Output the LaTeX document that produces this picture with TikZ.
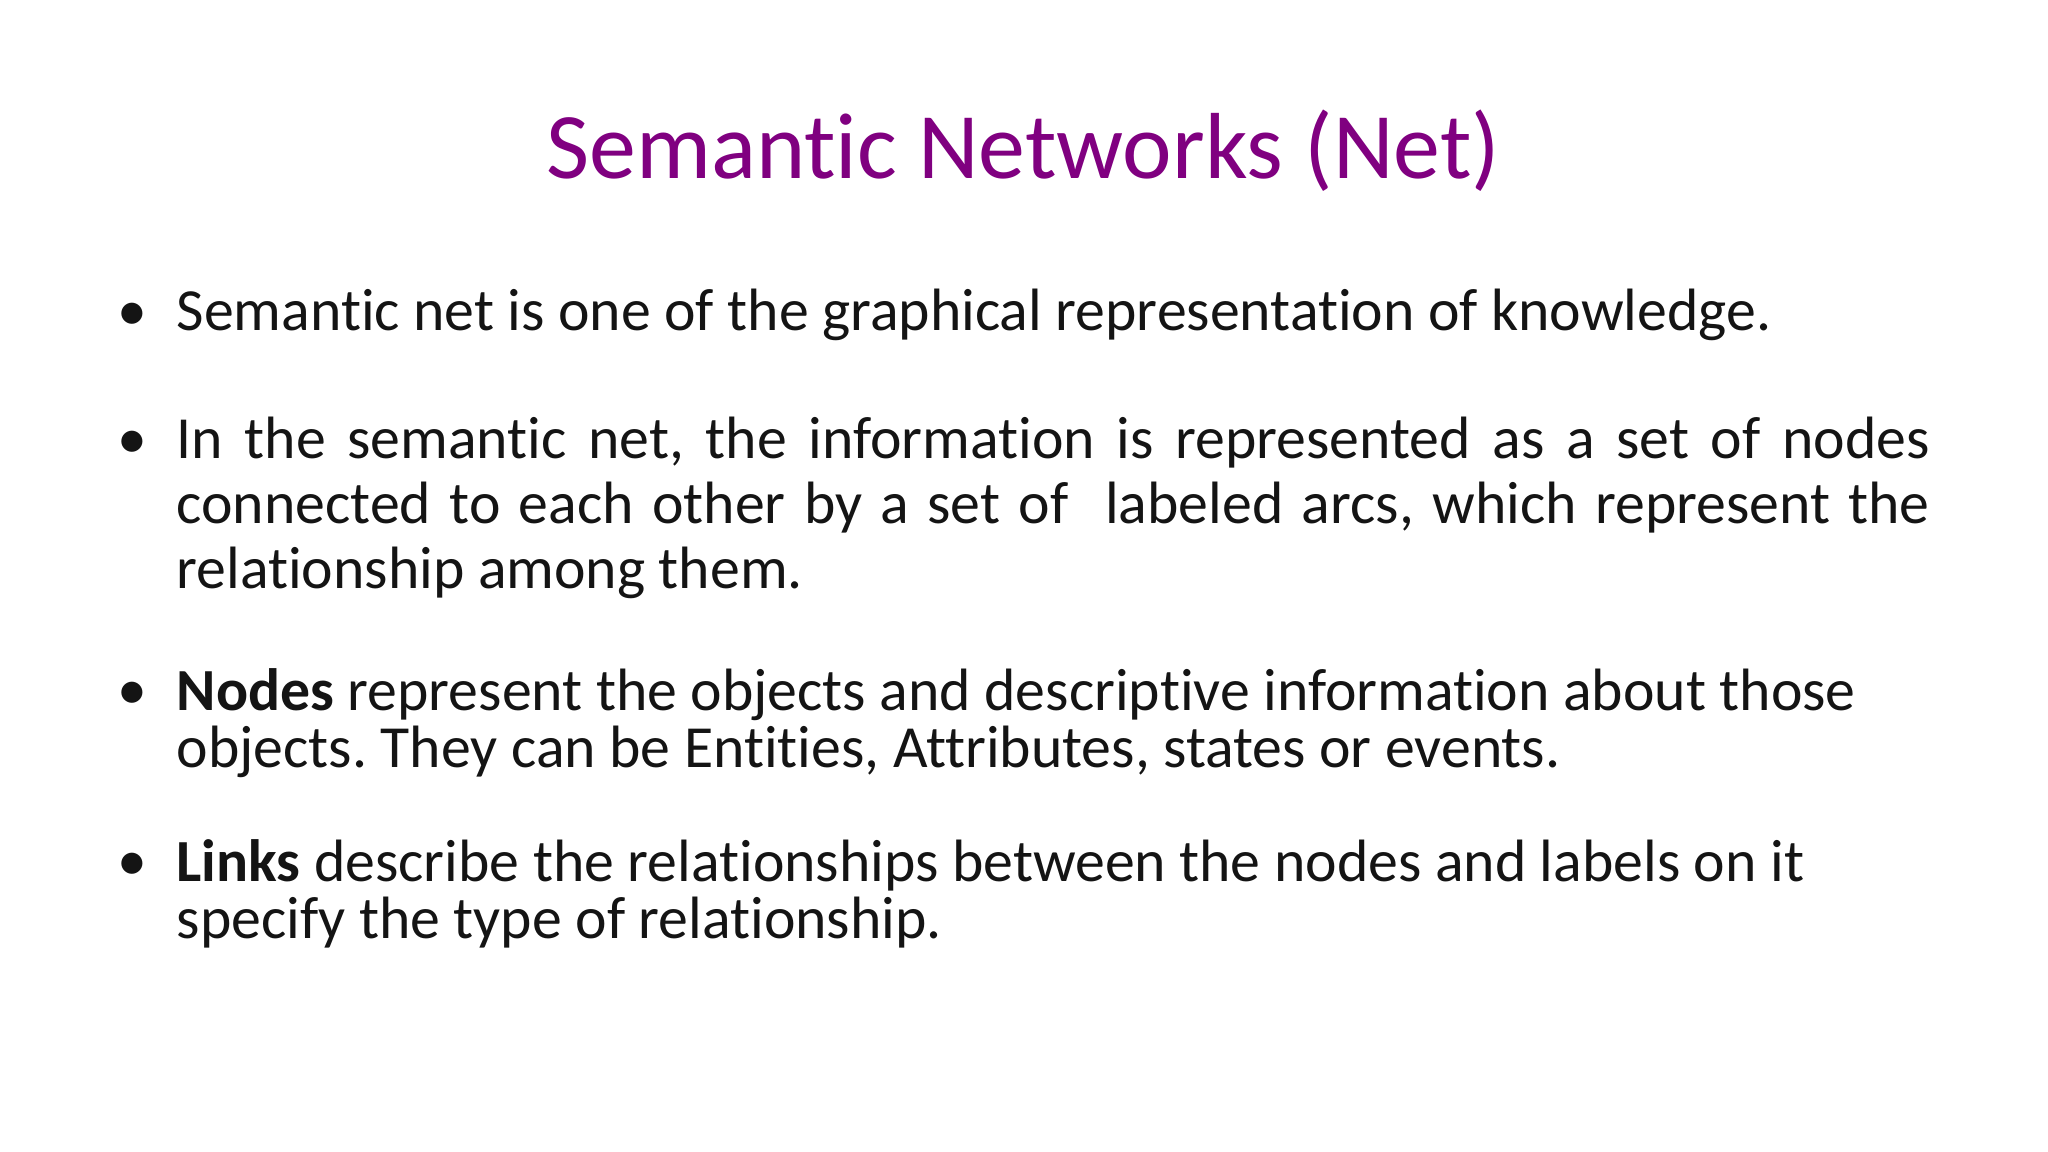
\documentclass[tikz,border=0pt]{standalone}
\usepackage{fontspec}
\setmainfont{Carlito}[Ligatures=NoCommon]
\definecolor{titlepurple}{RGB}{128,0,128}
\definecolor{bodytext}{RGB}{20,20,20}
\frenchspacing
\begin{document}
\begin{tikzpicture}
\useasboundingbox (0,0) rectangle (20.48,11.52);
\tikzset{
  bodyline/.style={anchor=base west, inner sep=0pt, font=\fontsize{17}{16.3}\selectfont\frenchspacing, text=bodytext},
  bul/.style={anchor=base, inner sep=0pt, font=\fontsize{17}{16.3}\selectfont, text=bodytext}
}
\node[anchor=base, inner sep=0pt, text=titlepurple, font=\fontsize{26.7}{32}\selectfont] (title) at (10.23,9.73) {Semantic Networks (Net)};

\node[bul] (b1) at (1.32,8.21) {\textbullet};
\node[bodyline] (p1) at (1.76,8.21) {Semantic net is one of the graphical representation of knowledge.};

\node[bul] (b2) at (1.32,6.93) {\textbullet};
\node[bodyline, text width=17.53cm, align=justify, font=\fontsize{17}{18.4}\selectfont] (p2) at (1.76,6.93) {In the semantic net, the information is represented as a set of nodes\linebreak connected to each other by a set of\ \ labeled arcs, which represent the\linebreak relationship among them.};

\node[bul] (b3) at (1.32,4.42) {\textbullet};
\node[bodyline, align=left] (p3) at (1.76,3.84) {\textbf{Nodes} represent the objects and descriptive information about those\\objects. They can be Entities, Attributes, states or events.};

\node[bul] (b4) at (1.32,2.71) {\textbullet};
\node[bodyline, align=left] (p4) at (1.76,2.13) {\textbf{Links} describe the relationships between the nodes and labels on it\\specify the type of relationship.};
\end{tikzpicture}
\end{document}
